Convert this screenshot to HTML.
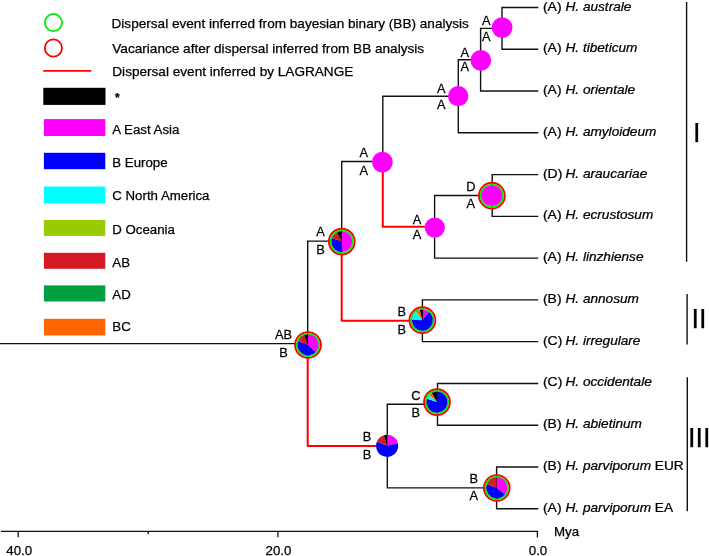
<!DOCTYPE html>
<html><head><meta charset="utf-8"><style>
html,body{margin:0;padding:0;background:#fff;}
svg{display:block;}
text{font-family:"Liberation Sans",Arial,sans-serif;fill:#000;stroke:#000;stroke-width:0.25px;}
.nl{font-size:13.5px;}
.lf{font-size:12.4px;}
.cl{font-size:27px;}
.ax{font-size:13.3px;}
.lg{font-size:13.6px;}
.lg2{font-size:13.25px;}
</style></head><body>
<svg width="709" height="556" viewBox="0 0 709 556">
<path d="M502 28.39V7.5H537.5 M502 28.39V49.27H537.5 M480.6 59.71V28.39H502 M480.6 59.71V91.04H537.5 M458.3 96.26V59.71H480.6 M458.3 96.26V132.81H537.5 M492.2 195.47V174.58H537.5 M492.2 195.47V216.35H537.5 M434.6 226.79V195.47H492.2 M434.6 226.79V258.12H537.5 M382.8 161.53V96.26H458.3 M422.4 320.78V299.89H537.5 M422.4 320.78V341.66H537.5 M341.7 241.15V161.53H382.8 M437.5 404.32V383.43H537.5 M437.5 404.32V425.2H537.5 M496.6 487.86V466.97H537.5 M496.6 487.86V508.74H537.5 M387.3 446.09V404.32H437.5 M387.3 446.09V487.86H496.6 M307.7 343.62V241.15H341.7 M0 343.62H307.7" fill="none" stroke="#111" stroke-width="1.4" stroke-linejoin="miter" stroke-linecap="square"/>
<path d="M382.8 161.53V226.79H434.6 M341.7 241.15V320.78H422.4 M307.7 343.62V446.09H387.3" fill="none" stroke="#ff0000" stroke-width="2" stroke-linejoin="round"/>
<circle cx="502.1" cy="27.6" r="10.4" fill="#ff00ff"/>
<circle cx="480.8" cy="60.4" r="10.35" fill="#ff00ff"/>
<circle cx="458.2" cy="96.1" r="10.2" fill="#ff00ff"/>
<circle cx="434.8" cy="227.6" r="10.1" fill="#ff00ff"/>
<circle cx="382.4" cy="162.1" r="10.4" fill="#ff00ff"/>
<circle cx="491.9" cy="195.7" r="12.9" fill="none" stroke="#ff0000" stroke-width="1.9"/><circle cx="491.9" cy="195.7" r="11.2" fill="none" stroke="#00ee00" stroke-width="1.7"/><circle cx="491.9" cy="195.7" r="10.4" fill="#ff00ff"/><path d="M491.9 195.7L490.9 185.35A10.4 10.4 0 0 1 491.63 185.3Z" fill="#0a8040"/>
<circle cx="341.8" cy="241.6" r="12.9" fill="none" stroke="#ff0000" stroke-width="1.9"/><circle cx="341.8" cy="241.6" r="11.2" fill="none" stroke="#00ee00" stroke-width="1.7"/><path d="M341.8 241.6L341.8 231.2A10.4 10.4 0 0 1 341.8 252Z" fill="#ff00ff"/><path d="M341.8 241.6L341.8 252A10.4 10.4 0 0 1 332.03 238.04Z" fill="#0000ff"/><path d="M341.8 241.6L332.03 238.04A10.4 10.4 0 0 1 336.92 232.42Z" fill="#d41a22"/><path d="M341.8 241.6L336.92 232.42A10.4 10.4 0 0 1 341.8 231.2Z" fill="#000"/>
<circle cx="308" cy="345" r="12.9" fill="none" stroke="#ff0000" stroke-width="1.9"/><circle cx="308" cy="345" r="11.2" fill="none" stroke="#00ee00" stroke-width="1.7"/><path d="M308 345L308 334.6A10.4 10.4 0 0 1 315.73 351.96Z" fill="#ff00ff"/><path d="M308 345L315.73 351.96A10.4 10.4 0 0 1 298.29 341.27Z" fill="#0000ff"/><path d="M308 345L298.29 341.27A10.4 10.4 0 0 1 304.1 335.36Z" fill="#d41a22"/><path d="M308 345L304.1 335.36A10.4 10.4 0 0 1 308 334.6Z" fill="#000"/>
<circle cx="422.4" cy="320.2" r="12.9" fill="none" stroke="#ff0000" stroke-width="1.9"/><circle cx="422.4" cy="320.2" r="11.2" fill="none" stroke="#00ee00" stroke-width="1.7"/><path d="M422.4 320.2L422.94 309.81A10.4 10.4 0 0 1 428.8 312Z" fill="#ff00ff"/><path d="M422.4 320.2L428.8 312A10.4 10.4 0 1 1 412.02 319.57Z" fill="#0000ff"/><path d="M422.4 320.2L412.02 319.57A10.4 10.4 0 0 1 416.29 311.79Z" fill="#00ffff"/><path d="M422.4 320.2L416.29 311.79A10.4 10.4 0 0 1 419.88 310.11Z" fill="#ff6600"/><path d="M422.4 320.2L419.88 310.11A10.4 10.4 0 0 1 422.94 309.81Z" fill="#000"/>
<circle cx="437" cy="402.1" r="12.9" fill="none" stroke="#ff0000" stroke-width="1.9"/><circle cx="437" cy="402.1" r="11.2" fill="none" stroke="#00ee00" stroke-width="1.7"/><path d="M437 402.1L437 391.7A10.4 10.4 0 1 1 427.17 398.71Z" fill="#0000ff"/><path d="M437 402.1L427.17 398.71A10.4 10.4 0 0 1 429.27 395.14Z" fill="#00ffff"/><path d="M437 402.1L429.27 395.14A10.4 10.4 0 0 1 431.8 393.09Z" fill="#ff6600"/><path d="M437 402.1L431.8 393.09A10.4 10.4 0 0 1 437 391.7Z" fill="#000"/>
<circle cx="496.8" cy="488" r="12.9" fill="none" stroke="#ff0000" stroke-width="1.9"/><circle cx="496.8" cy="488" r="11.2" fill="none" stroke="#00ee00" stroke-width="1.7"/><path d="M496.8 488L496.8 477.6A10.4 10.4 0 0 1 504.88 494.54Z" fill="#ff00ff"/><path d="M496.8 488L504.88 494.54A10.4 10.4 0 0 1 487.16 484.1Z" fill="#0000ff"/><path d="M496.8 488L487.16 484.1A10.4 10.4 0 0 1 496.62 477.6Z" fill="#d41a22"/><path d="M496.8 488L496.62 477.6A10.4 10.4 0 0 1 496.8 477.6Z" fill="#000"/>
<path d="M387.1 445.8L387.1 434.7A11.1 11.1 0 0 1 397.92 443.3Z" fill="#ff00ff"/><path d="M387.1 445.8L397.92 443.3A11.1 11.1 0 1 1 376.81 441.64Z" fill="#0000ff"/><path d="M387.1 445.8L376.81 441.64A11.1 11.1 0 0 1 383.85 435.19Z" fill="#d41a22"/><path d="M387.1 445.8L383.85 435.19A11.1 11.1 0 0 1 387.1 434.7Z" fill="#000"/>
<text x="0" y="0" text-anchor="middle" class="nl" transform="translate(486.2 24.7) scale(0.95 1)">A</text>
<text x="0" y="0" text-anchor="middle" class="nl" transform="translate(486.2 40.5) scale(0.95 1)">A</text>
<text x="0" y="0" text-anchor="middle" class="nl" transform="translate(464.7 56.5) scale(0.95 1)">A</text>
<text x="0" y="0" text-anchor="middle" class="nl" transform="translate(464.7 71.3) scale(0.95 1)">A</text>
<text x="0" y="0" text-anchor="middle" class="nl" transform="translate(441.3 92.5) scale(0.95 1)">A</text>
<text x="0" y="0" text-anchor="middle" class="nl" transform="translate(441.3 108.9) scale(0.95 1)">A</text>
<text x="0" y="0" text-anchor="middle" class="nl" transform="translate(470.9 191.4) scale(0.95 1)">D</text>
<text x="0" y="0" text-anchor="middle" class="nl" transform="translate(470.9 207.7) scale(0.95 1)">A</text>
<text x="0" y="0" text-anchor="middle" class="nl" transform="translate(417.1 223.7) scale(0.95 1)">A</text>
<text x="0" y="0" text-anchor="middle" class="nl" transform="translate(417.1 239.4) scale(0.95 1)">A</text>
<text x="0" y="0" text-anchor="middle" class="nl" transform="translate(363.7 157.3) scale(0.95 1)">A</text>
<text x="0" y="0" text-anchor="middle" class="nl" transform="translate(363.7 174.8) scale(0.95 1)">A</text>
<text x="0" y="0" text-anchor="middle" class="nl" transform="translate(401.8 315.9) scale(0.95 1)">B</text>
<text x="0" y="0" text-anchor="middle" class="nl" transform="translate(401.8 334.4) scale(0.95 1)">B</text>
<text x="0" y="0" text-anchor="middle" class="nl" transform="translate(320.5 236.3) scale(0.95 1)">A</text>
<text x="0" y="0" text-anchor="middle" class="nl" transform="translate(320.5 254.4) scale(0.95 1)">B</text>
<text x="0" y="0" text-anchor="middle" class="nl" transform="translate(415.9 399.7) scale(0.95 1)">C</text>
<text x="0" y="0" text-anchor="middle" class="nl" transform="translate(415.9 417.4) scale(0.95 1)">B</text>
<text x="0" y="0" text-anchor="middle" class="nl" transform="translate(473.9 482.8) scale(0.95 1)">B</text>
<text x="0" y="0" text-anchor="middle" class="nl" transform="translate(473.9 500) scale(0.95 1)">A</text>
<text x="0" y="0" text-anchor="middle" class="nl" transform="translate(367 440.8) scale(0.95 1)">B</text>
<text x="0" y="0" text-anchor="middle" class="nl" transform="translate(367 459.3) scale(0.95 1)">B</text>
<text x="0" y="0" text-anchor="middle" class="nl" transform="translate(283.6 339.1) scale(0.95 1)">AB</text>
<text x="0" y="0" text-anchor="middle" class="nl" transform="translate(283.6 356.7) scale(0.95 1)">B</text>
<text x="543" y="10.5" class="lf" transform="translate(543 0) scale(1.12 1) translate(-543 0)">(A)</text>
<text x="565.5" y="10.5" class="lf" transform="translate(565.5 0) scale(1.1 1) translate(-565.5 0)"><tspan font-style="italic">H. australe</tspan></text>
<text x="543" y="52.27" class="lf" transform="translate(543 0) scale(1.12 1) translate(-543 0)">(A)</text>
<text x="565.5" y="52.27" class="lf" transform="translate(565.5 0) scale(1.1 1) translate(-565.5 0)"><tspan font-style="italic">H. tibeticum</tspan></text>
<text x="543" y="94.04" class="lf" transform="translate(543 0) scale(1.12 1) translate(-543 0)">(A)</text>
<text x="565.5" y="94.04" class="lf" transform="translate(565.5 0) scale(1.1 1) translate(-565.5 0)"><tspan font-style="italic">H. orientale</tspan></text>
<text x="543" y="135.81" class="lf" transform="translate(543 0) scale(1.12 1) translate(-543 0)">(A)</text>
<text x="565.5" y="135.81" class="lf" transform="translate(565.5 0) scale(1.1 1) translate(-565.5 0)"><tspan font-style="italic">H. amyloideum</tspan></text>
<text x="543" y="177.58" class="lf" transform="translate(543 0) scale(1.12 1) translate(-543 0)">(D)</text>
<text x="565.5" y="177.58" class="lf" transform="translate(565.5 0) scale(1.1 1) translate(-565.5 0)"><tspan font-style="italic">H. araucariae</tspan></text>
<text x="543" y="219.35" class="lf" transform="translate(543 0) scale(1.12 1) translate(-543 0)">(A)</text>
<text x="565.5" y="219.35" class="lf" transform="translate(565.5 0) scale(1.1 1) translate(-565.5 0)"><tspan font-style="italic">H. ecrustosum</tspan></text>
<text x="543" y="261.12" class="lf" transform="translate(543 0) scale(1.12 1) translate(-543 0)">(A)</text>
<text x="565.5" y="261.12" class="lf" transform="translate(565.5 0) scale(1.1 1) translate(-565.5 0)"><tspan font-style="italic">H. linzhiense</tspan></text>
<text x="543" y="302.89" class="lf" transform="translate(543 0) scale(1.12 1) translate(-543 0)">(B)</text>
<text x="565.5" y="302.89" class="lf" transform="translate(565.5 0) scale(1.1 1) translate(-565.5 0)"><tspan font-style="italic">H. annosum</tspan></text>
<text x="543" y="344.66" class="lf" transform="translate(543 0) scale(1.12 1) translate(-543 0)">(C)</text>
<text x="565.5" y="344.66" class="lf" transform="translate(565.5 0) scale(1.1 1) translate(-565.5 0)"><tspan font-style="italic">H. irregulare</tspan></text>
<text x="543" y="386.43" class="lf" transform="translate(543 0) scale(1.12 1) translate(-543 0)">(C)</text>
<text x="565.5" y="386.43" class="lf" transform="translate(565.5 0) scale(1.1 1) translate(-565.5 0)"><tspan font-style="italic">H. occidentale</tspan></text>
<text x="543" y="428.2" class="lf" transform="translate(543 0) scale(1.12 1) translate(-543 0)">(B)</text>
<text x="565.5" y="428.2" class="lf" transform="translate(565.5 0) scale(1.1 1) translate(-565.5 0)"><tspan font-style="italic">H. abietinum</tspan></text>
<text x="543" y="469.97" class="lf" transform="translate(543 0) scale(1.12 1) translate(-543 0)">(B)</text>
<text x="565.5" y="469.97" class="lf" transform="translate(565.5 0) scale(1.1 1) translate(-565.5 0)"><tspan font-style="italic">H. parviporum</tspan><tspan> EUR</tspan></text>
<text x="543" y="511.74" class="lf" transform="translate(543 0) scale(1.12 1) translate(-543 0)">(A)</text>
<text x="565.5" y="511.74" class="lf" transform="translate(565.5 0) scale(1.1 1) translate(-565.5 0)"><tspan font-style="italic">H. parviporum</tspan><tspan> EA</tspan></text>
<path d="M686.6 2V261.7M687.1 294V344.6M687.3 377.2V511.2" stroke="#111" stroke-width="1.4" fill="none"/>
<text x="693" y="142" class="cl">I</text>
<text x="691.5" y="327.5" class="cl">II</text>
<text x="688" y="447" class="cl">III</text>
<path d="M1 531.3H537.4V537.5M18.2 531.3V537.3M277.9 531.3V537.3M148.2 531.3V534.3" stroke="#111" stroke-width="1.3" fill="none"/>
<text x="19.2" y="555" text-anchor="middle" class="ax">40.0</text>
<text x="278.5" y="555" text-anchor="middle" class="ax">20.0</text>
<text x="538" y="555" text-anchor="middle" class="ax">0.0</text>
<text x="554" y="536.1" class="ax">Mya</text>
<circle cx="53.4" cy="22.6" r="8.6" fill="none" stroke="#00ee00" stroke-width="1.8"/>
<circle cx="53.4" cy="48" r="8.6" fill="none" stroke="#ff0000" stroke-width="1.8"/>
<path d="M43.2 70.8H91.2" stroke="#ff0000" stroke-width="1.8"/>
<text x="111.5" y="28.4" class="lg">Dispersal event inferred from bayesian binary (BB) analysis</text>
<text x="112.3" y="53" class="lg">Vacariance after dispersal inferred from BB analysis</text>
<text x="112.3" y="76.1" class="lg">Dispersal event inferred by LAGRANGE</text>
<rect x="43.3" y="87.8" width="62.2" height="17.1" fill="#000"/>
<text x="114.9" y="101.8" class="lg" font-weight="bold" style="font-size:12px">*</text>
<rect x="43.9" y="119.1" width="61.4" height="16.9" fill="#ff00ff"/>
<text x="112.3" y="133.7" class="lg2">A East Asia</text>
<rect x="43.9" y="152.8" width="61.4" height="16.4" fill="#0000ff"/>
<text x="112.3" y="166.6" class="lg2">B Europe</text>
<rect x="43.9" y="186.5" width="61.4" height="16.7" fill="#00ffff"/>
<text x="112.3" y="200.3" class="lg2">C North America</text>
<rect x="43.9" y="220" width="61.4" height="15.9" fill="#99cc00"/>
<text x="112.3" y="234.1" class="lg2">D Oceania</text>
<rect x="43.9" y="252.8" width="61.4" height="16" fill="#d41a22"/>
<text x="112.3" y="266.8" class="lg2">AB</text>
<rect x="43.9" y="285.4" width="61.4" height="16.1" fill="#00a040"/>
<text x="112.3" y="298.9" class="lg2">AD</text>
<rect x="43.9" y="318.8" width="61.4" height="16.7" fill="#ff6600"/>
<text x="112.3" y="331.2" class="lg2">BC</text>
</svg>
</body></html>
